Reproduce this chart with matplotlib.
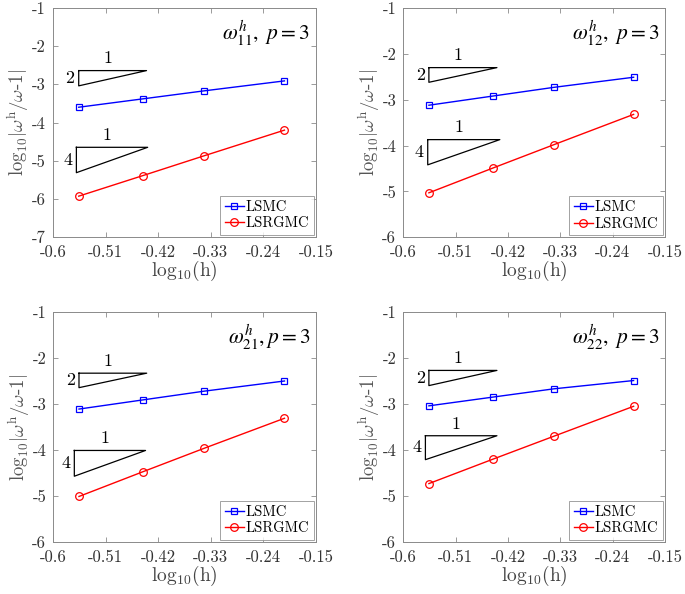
import matplotlib
matplotlib.use("Agg")
import matplotlib.pyplot as plt
import numpy as np

plt.rcParams['font.family'] = ['cmr10', 'DejaVu Serif']
plt.rcParams['axes.unicode_minus'] = False
plt.rcParams['mathtext.fontset'] = 'stix'

# ---- data ----
log_h = [-0.556, -0.446, -0.341, -0.204]

titles = [r'$\omega_{11}^{h},\ p=3$', r'$\omega_{12}^{h},\ p=3$',
          r'$\omega_{21}^{h},p=3$', r'$\omega_{22}^{h},\ p=3$']

lsmc_11 = [-3.60, -3.38, -3.17, -2.91]
lsrgmc_11 = [-5.93, -5.39, -4.87, -4.20]
lsmc_12 = [-3.12, -2.92, -2.73, -2.51]
lsrgmc_12 = [-5.03, -4.49, -3.98, -3.32]
lsmc_21 = [-3.11, -2.91, -2.72, -2.50]
lsrgmc_21 = [-5.01, -4.47, -3.96, -3.31]
lsmc_22 = [-3.04, -2.85, -2.67, -2.49]
lsrgmc_22 = [-4.73, -4.20, -3.70, -3.05]

lsmc_all = [lsmc_11, lsmc_12, lsmc_21, lsmc_22]
lsrgmc_all = [lsrgmc_11, lsrgmc_12, lsrgmc_21, lsrgmc_22]
ymins = [-7, -6, -6, -6]

# slope triangles: (x_left, x_right, y_top, y_bottom)
tri_rate2 = [(-0.556, -0.440, -2.64, -3.04),
             (-0.556, -0.439, -2.30, -2.62),
             (-0.556, -0.440, -2.33, -2.645),
             (-0.556, -0.439, -2.27, -2.60)]
tri_rate4 = [(-0.560, -0.438, -4.65, -5.315),
             (-0.558, -0.434, -3.87, -4.42),
             (-0.564, -0.442, -4.01, -4.57),
             (-0.562, -0.439, -3.69, -4.21)]
tri_labels = ['2', '4']

xticks = [-0.6, -0.51, -0.42, -0.33, -0.24, -0.15]
xtick_labels = ['-0.6', '-0.51', '-0.42', '-0.33', '-0.24', '-0.15']

# ---- layout ----
W, H = 685, 594
fig = plt.figure(figsize=(W / 100, H / 100), dpi=100)
boxes = [(53, 8, 316, 237), (403.3, 8, 665, 237.3),
         (53.3, 312, 316, 542), (403.3, 312, 665, 542)]

grey = '#333333'
spine = '#8a8a8a'

for i, (x0, y0, x1, y1) in enumerate(boxes):
    ax = fig.add_axes([x0 / W, 1 - y1 / H, (x1 - x0) / W, (y1 - y0) / H])
    ax.plot(log_h, lsmc_all[i], '-', color='#0000ff', lw=1.0, marker='s',
            ms=4.5, mfc='none', mew=0.9, label='LSMC')
    ax.plot(log_h, lsrgmc_all[i], '-', color='#ff0000', lw=1.0, marker='o',
            ms=5.5, mfc='none', mew=0.9, label='LSRGMC')
    for tri, lab in zip([tri_rate2[i], tri_rate4[i]], tri_labels):
        xl, xr, yt, yb = tri
        ax.plot([xl, xr, xl, xl], [yt, yt, yb, yt], '-', color='black', lw=0.9)
        ax.annotate(lab, xy=(xl, (yt + yb) / 2), xytext=(-3, 0),
                    textcoords='offset points', ha='right', va='center',
                    fontsize=13, color='black')
        ax.annotate('1', xy=(xl + 0.43 * (xr - xl), yt), xytext=(0, 3),
                    textcoords='offset points', ha='center', va='bottom',
                    fontsize=13, color='black')
    ax.set_xlim(-0.6, -0.15)
    ax.set_ylim(ymins[i], -1)
    ax.set_xticks(xticks)
    ax.set_xticklabels(xtick_labels)
    ax.set_yticks(np.arange(ymins[i], 0, 1))
    ax.set_yticklabels([str(v) for v in range(ymins[i], 0)])
    ax.tick_params(direction='in', top=True, right=True, length=3.5,
                   width=0.6, color=spine, labelsize=12, labelcolor=grey)
    ax.tick_params(axis='x', pad=5.5)
    ax.tick_params(axis='y', pad=5)
    for s in ax.spines.values():
        s.set_color(spine)
        s.set_linewidth(0.7)
    ax.text(0.977, 0.89, titles[i], transform=ax.transAxes, ha='right',
            va='center', fontsize=15.5, color='black', math_fontfamily='stix')
    ax.set_xlabel(r'$\mathrm{log}_{10}\mathrm{(h)}$', fontsize=14, color='#444444',
                  math_fontfamily='cm', labelpad=-1)
    ax.set_ylabel(r'$\mathrm{log}_{10}|\omega^{\mathrm{h}}/\omega$-$1|$', fontsize=13.5,
                  color='#555555', math_fontfamily='cm', labelpad=0.5)
    leg = ax.legend(loc='lower right', fontsize=10.5, frameon=True, fancybox=False,
                    borderaxespad=0.15, handlelength=1.3, handletextpad=0.15,
                    borderpad=0.3, labelspacing=0.2)
    leg.get_frame().set_edgecolor(spine)
    leg.get_frame().set_linewidth(0.7)

fig.savefig('out.png', dpi=100)
